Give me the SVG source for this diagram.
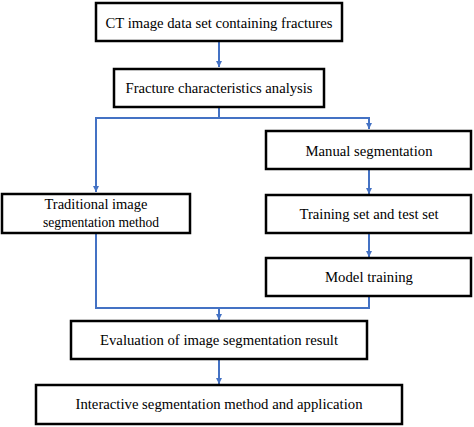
<svg xmlns="http://www.w3.org/2000/svg" width="474" height="427" viewBox="0 0 474 427">
<defs>
<marker id="ah" markerWidth="8" markerHeight="8" refX="6" refY="4" orient="auto" markerUnits="userSpaceOnUse"><path d="M0,1 L6,4 L0,7 Z" fill="#4472C4"/></marker>
<style>
.box{fill:#fff;stroke:#000;stroke-width:2.5}
.t{font-family:"Liberation Serif","Times New Roman",serif;font-size:15.5px;fill:#000;text-anchor:middle}
.c{fill:none;stroke:#4472C4;stroke-width:2}
</style>
</defs>
<rect width="474" height="427" fill="#fff"/>
<g id="connectors">
<path class="c" d="M219,41 V67" marker-end="url(#ah)"/>
<path class="c" d="M219,107 V118 H96 V192" marker-end="url(#ah)"/>
<path class="c" d="M219,118 H369 V129" marker-end="url(#ah)"/>
<path class="c" d="M369,169 V194" marker-end="url(#ah)"/>
<path class="c" d="M369,233 V257" marker-end="url(#ah)"/>
<path class="c" d="M96,233 V308 H369 V296"/>
<path class="c" d="M219,308 V320" marker-end="url(#ah)"/>
<path class="c" d="M219,359 V384" marker-end="url(#ah)"/>
</g>
<g id="n1"><rect class="box" x="96" y="3" width="246" height="38"/><text class="t" x="219" y="28" textLength="227" lengthAdjust="spacingAndGlyphs">CT image data set containing fractures</text></g>
<g id="n2"><rect class="box" x="114" y="69" width="210" height="38"/><text class="t" x="219" y="93" textLength="187" lengthAdjust="spacingAndGlyphs">Fracture characteristics analysis</text></g>
<g id="n3"><rect class="box" x="266" y="131" width="205" height="38"/><text class="t" x="369" y="156" textLength="127" lengthAdjust="spacingAndGlyphs">Manual segmentation</text></g>
<g id="n4"><rect class="box" x="2" y="194" width="188" height="39"/><text class="t" x="96" y="209" textLength="103" lengthAdjust="spacingAndGlyphs">Traditional image</text><text class="t" x="101" y="227" textLength="116" lengthAdjust="spacingAndGlyphs">segmentation method</text></g>
<g id="n5"><rect class="box" x="266" y="195" width="205" height="38"/><text class="t" x="369" y="219" textLength="139" lengthAdjust="spacingAndGlyphs">Training set and test set</text></g>
<g id="n6"><rect class="box" x="266" y="258" width="205" height="38"/><text class="t" x="369" y="282" textLength="88" lengthAdjust="spacingAndGlyphs">Model training</text></g>
<g id="n7"><rect class="box" x="71" y="321" width="296" height="38"/><text class="t" x="219" y="345" textLength="238" lengthAdjust="spacingAndGlyphs">Evaluation of image segmentation result</text></g>
<g id="n8"><rect class="box" x="36" y="385" width="366" height="39"/><text class="t" x="219" y="409" textLength="287" lengthAdjust="spacingAndGlyphs">Interactive segmentation method and application</text></g>
</svg>
